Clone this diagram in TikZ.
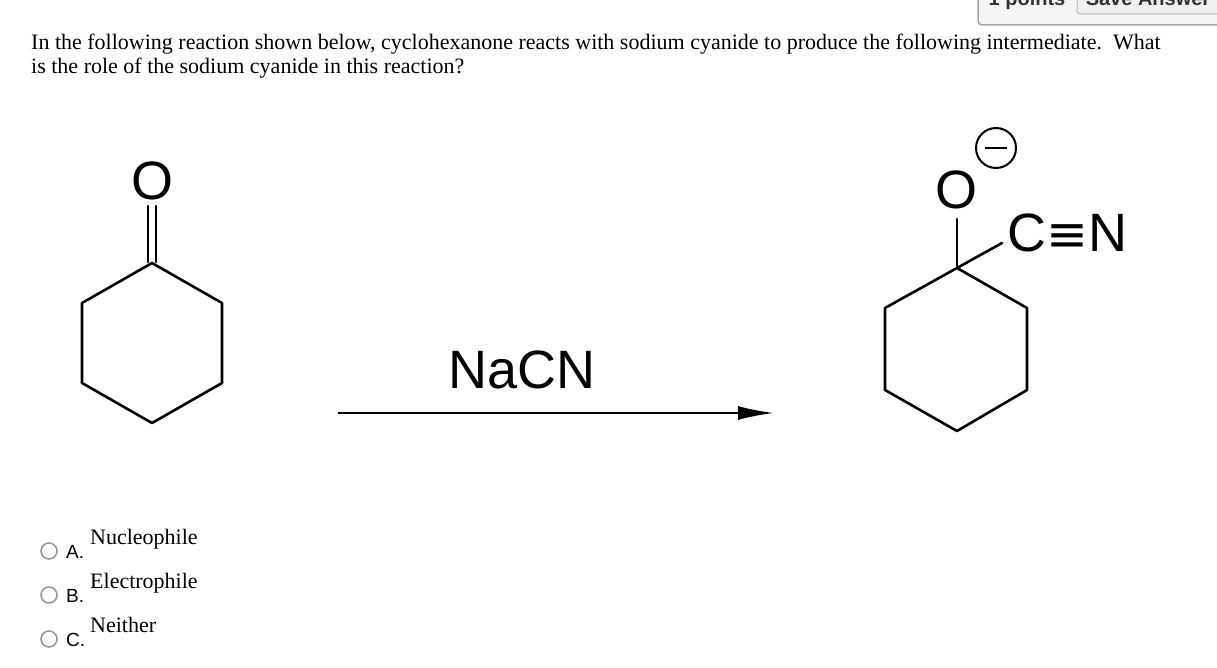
\documentclass[tikz,border=0pt]{standalone}
\usepackage{fontspec}
\setmainfont{Liberation Serif}
\newfontfamily\lsans{Liberation Sans}
\newfontfamily\dsans{DejaVu Sans}
\usetikzlibrary{arrows.meta}
\begin{document}
\begin{tikzpicture}[x=1pt,y=-1pt,
  bond/.style={line width=2.6pt,line cap=round,line join=round},
  atom/.style={font=\lsans\fontsize{54}{54}\selectfont,inner sep=0pt},
  qtext/.style={font=\fontsize{22}{26}\selectfont,anchor=base west,inner sep=0pt},
  opt/.style={font=\fontsize{22}{26}\selectfont,anchor=base west,inner sep=0pt},
  letter/.style={font=\lsans\fontsize{19}{20}\selectfont,anchor=base west,inner sep=0pt},
  radio/.style={draw=gray!85,line width=1.5pt}]
\useasboundingbox (0,0) rectangle (1217,668);
% buttons at top
\begin{scope}
\clip (0,0) rectangle (1217,668);
\draw[gray!70,line width=1.5pt,rounded corners=4pt,fill=gray!8] (978,-20) rectangle (1240,25);
\draw[gray!50,line width=1pt,rounded corners=3pt,fill=gray!12] (1077,-20) rectangle (1240,14);
\node[font=\lsans\bfseries\fontsize{20}{20}\selectfont,anchor=base,text=black!80] (pts) at (1027,6) {1 points};
\node[font=\lsans\bfseries\fontsize{20}{20}\selectfont,anchor=base,text=black!80] (sav) at (1148,6) {Save Answer};
\end{scope}
% question
\node[qtext] (q1) at (31,50) {In the following reaction shown below, cyclohexanone reacts with sodium cyanide to produce the following intermediate.\ \ What};
\node[qtext] (q2) at (31,74) {is the role of the sodium cyanide in this reaction?};
% cyclohexanone
\draw[bond] (152,263) -- (222,303) -- (222,383) -- (152,423) -- (82,383) -- (82,303) -- cycle;
\draw[bond] (148,206) -- (148,262);
\draw[bond] (156,206) -- (156,262);
\node[atom] (o1) at (152,181) {O};
% arrow
\coordinate (a1) at (338,413);
\coordinate (a2) at (774,413);
\draw[line width=2.4pt,-{Latex[length=36pt,width=14pt]}] (a1) -- (a2);
\node[atom] (nacn) at (522,370) {NaCN};
% product
\draw[bond] (957,268) -- (1027,308) -- (1027,390) -- (957,431) -- (885,390) -- (885,308) -- cycle;
\draw[bond] (957,268) -- (957,219);
\draw[bond] (957,268) -- (1002,243);
\node[atom] (o2) at (956,190) {O};
\node[atom,anchor=west] (cn) at (1007,233) {C{\dsans\fontsize{50}{50}\selectfont≡}N};
\draw[line width=2pt] (996,148) circle (20);
\draw[line width=2pt] (985,148) -- (1007,148);
% options
\foreach \y/\l/\t in {551/A./Nucleophile,595/B./Electrophile,639/C./Neither}{
  \draw[radio] (49,\y) circle (8);
  \node[letter] at (66,\y+7) {\l};
  \node[opt] at (90,\y-7) {\t};
}
\end{tikzpicture}
\end{document}
